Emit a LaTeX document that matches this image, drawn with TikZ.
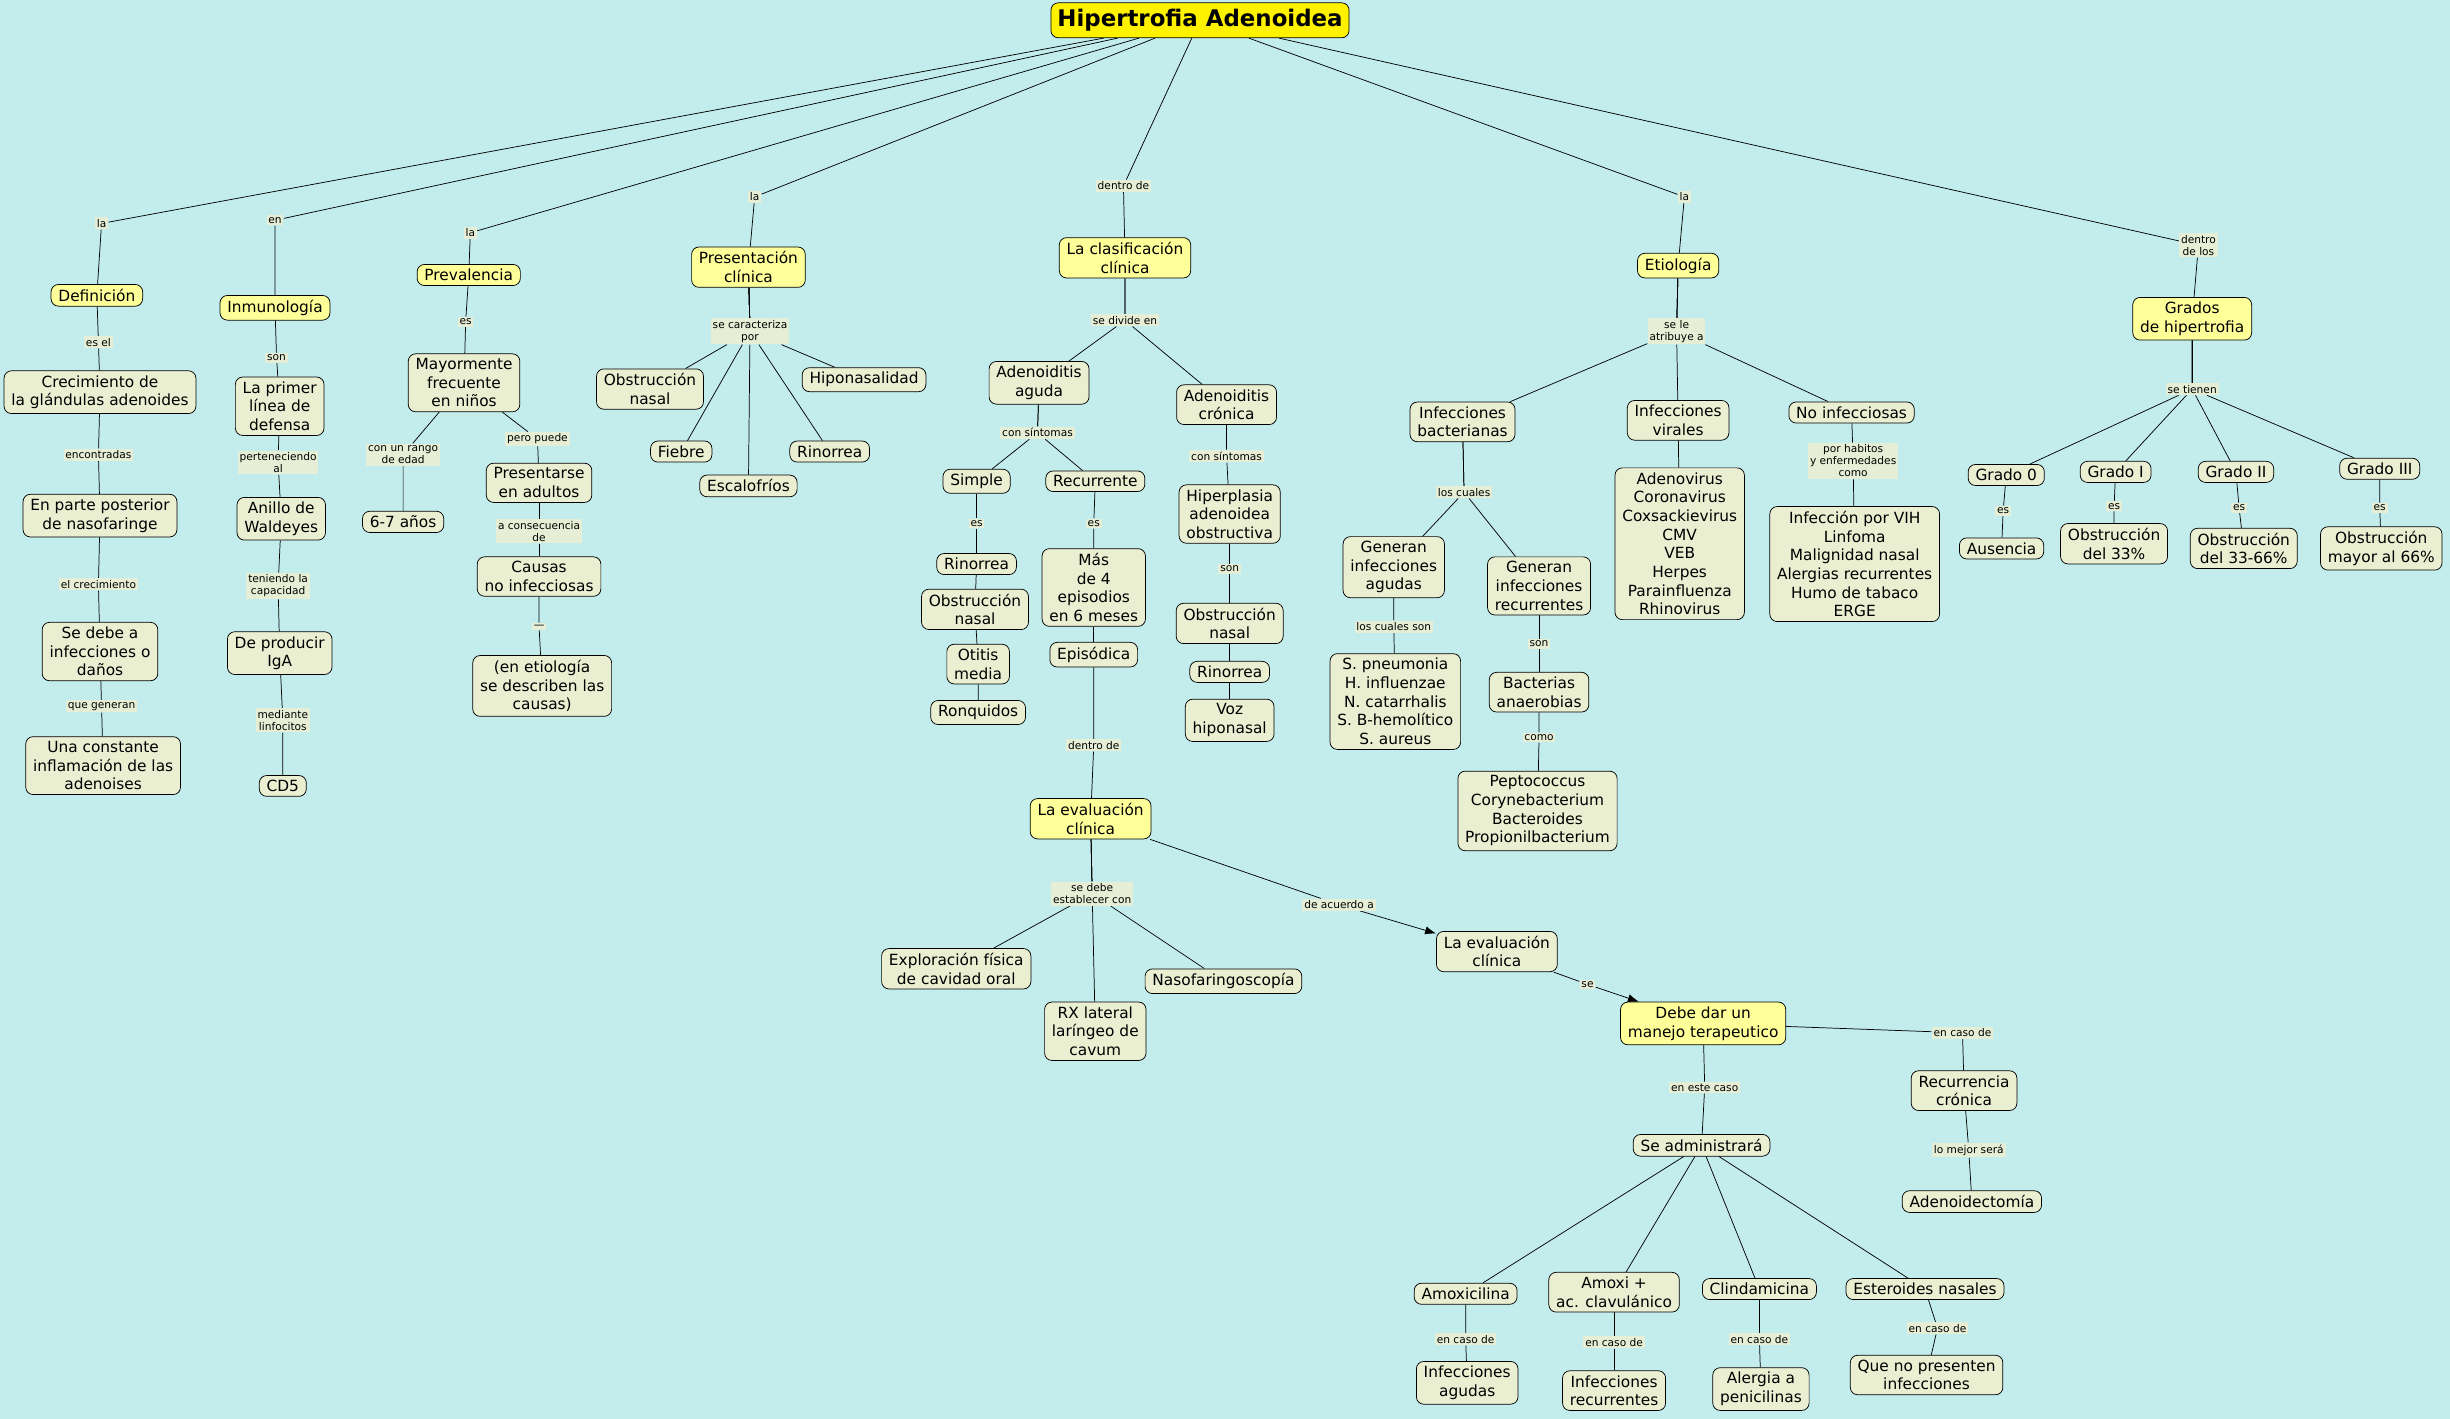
\documentclass[tikz,border=0pt]{standalone}
\usepackage{fontspec}
\setmainfont{DejaVu Sans}
\usetikzlibrary{arrows.meta,backgrounds}
\definecolor{bgc}{HTML}{C3EDED}
\definecolor{cream}{HTML}{EAEFD2}
\definecolor{yel}{HTML}{FFFF99}
\definecolor{lblc}{HTML}{E6EFD6}
\tikzset{
  concept/.style={draw, rounded corners=4pt, fill=cream, align=center, inner xsep=4pt, inner ysep=2.5pt,
    font=\fontsize{8.4}{10.2}\selectfont},
  key/.style={concept, fill=yel},
  lbl/.style={fill=lblc, align=center, inner sep=1pt, font=\fontsize{5.8}{6.6}\selectfont},
  edge/.style={thin, black},
  arr/.style={edge, -{Latex[length=6pt]}}
}
\newcommand\lk[3]{\draw[edge] (#1) -- (#2) -- (#3);}
\begin{document}
\begin{tikzpicture}[x=0.03cm,y=-0.03cm]
\useasboundingbox (0,0) rectangle (1568,908);
% title and main branches
\node[draw, rounded corners=4pt, fill=yellow, font=\bfseries\fontsize{12.5}{14}\selectfont, inner sep=3.5pt] (t) at (768,13) {Hipertrofia Adenoidea};
\node[key] (def) at (62,189) {Definición};
\node[key] (inm) at (176,197) {Inmunología};
\node[key] (prev) at (300,176) {Prevalencia};
\node[key] (pres) at (479,171) {Presentación\\clínica};
\node[key] (clas) at (720,165) {La clasificación\\clínica};
\node[key] (etio) at (1074,170) {Etiología};
\node[key] (grad) at (1403,204) {Grados\\de hipertrofia};
\node[lbl] (l1) at (65,143) {la};
\node[lbl] (l2) at (176,141) {en};
\node[lbl] (l3) at (301,149) {la};
\node[lbl] (l4) at (483,126) {la};
\node[lbl] (l5) at (719,119) {dentro de};
\node[lbl] (l6) at (1078,126) {la};
\node[lbl] (l7) at (1407,157) {dentro\\de los};
% definicion
\node[concept] (crec) at (64,251) {Crecimiento de\\la glándulas adenoides};
\node[concept] (post) at (64,330) {En parte posterior\\de nasofaringe};
\node[concept] (debe) at (64,417) {Se debe a\\infecciones o\\daños};
\node[concept] (const) at (66,490) {Una constante\\inflamación de las\\adenoises};
\node[lbl] (d1) at (63,219) {es el};
\node[lbl] (d2) at (63,291) {encontradas};
\node[lbl] (d3) at (63,374) {el crecimiento};
\node[lbl] (d4) at (65,452) {que generan};
% inmunologia
\node[concept] (lin) at (179,260) {La primer\\línea de\\defensa};
\node[concept] (anillo) at (180,332) {Anillo de\\Waldeyes};
\node[concept] (iga) at (179,418) {De producir\\IgA};
\node[concept] (cd) at (181,503) {CD5};
\node[lbl] (i1) at (177,229) {son};
\node[lbl] (i2) at (178,296) {perteneciendo\\al};
\node[lbl] (i3) at (178,375) {teniendo la\\capacidad};
\node[lbl] (i4) at (181,461) {mediante\\linfocitos};
% prevalencia
\node[concept] (may) at (297,245) {Mayormente\\frecuente\\en niños};
\node[concept] (edad) at (258,334) {6-7 años};
\node[concept] (adult) at (345,309) {Presentarse\\en adultos};
\node[concept] (causas) at (345,369) {Causas\\no infecciosas};
\node[concept] (etiol) at (347,439) {(en etiología\\se describen las\\causas)};
\node[lbl] (p1) at (298,206) {es};
\node[lbl] (p2) at (258,291) {con un rango\\de edad};
\node[lbl] (p3) at (344,281) {pero puede};
\node[lbl] (p4) at (345,340) {a consecuencia\\de};
\node[lbl] (p5) at (345,401) {---};
% presentacion
\node[lbl] (s1) at (480,212) {se caracteriza\\por};
\node[concept] (obs1) at (416,249) {Obstrucción\\nasal};
\node[concept] (fiebre) at (436,289) {Fiebre};
\node[concept] (escal) at (479,311) {Escalofríos};
\node[concept] (rin1) at (531,289) {Rinorrea};
\node[concept] (hipo) at (553,243) {Hiponasalidad};
% clasificacion
\node[lbl] (c1) at (720,205) {se divide en};
\node[concept] (aguda) at (665,245) {Adenoiditis\\aguda};
\node[concept] (cron) at (785,259) {Adenoiditis\\crónica};
\node[lbl] (c2) at (664,277) {con síntomas};
\node[concept] (simple) at (625,308) {Simple};
\node[concept] (recur) at (701,308) {Recurrente};
\node[lbl] (c3) at (625,335) {es};
\node[concept] (rin2) at (625,361) {Rinorrea};
\node[concept] (obs2) at (624,390) {Obstrucción\\nasal};
\node[concept] (otitis) at (626,425) {Otitis\\media};
\node[concept] (ronq) at (626,456) {Ronquidos};
\node[lbl] (c4) at (700,335) {es};
\node[concept] (mas) at (700,376) {Más\\de 4\\episodios\\en 6 meses};
\node[concept] (epis) at (700,419) {Episódica};
\node[lbl] (c5) at (785,292) {con síntomas};
\node[concept] (hiper) at (787,329) {Hiperplasia\\adenoidea\\obstructiva};
\node[lbl] (c6) at (787,364) {son};
\node[concept] (obs3) at (787,399) {Obstrucción\\nasal};
\node[concept] (rin3) at (787,430) {Rinorrea};
\node[concept] (voz) at (787,461) {Voz\\hiponasal};
\node[lbl] (c7) at (700,477) {dentro de};
\node[key] (eval1) at (698,524) {La evaluación\\clínica};
\node[lbl] (c8) at (699,572) {se debe\\establecer con};
\node[concept] (expl) at (612,620) {Exploración física\\de cavidad oral};
\node[concept] (rx) at (701,660) {RX lateral\\laríngeo de\\cavum};
\node[concept] (naso) at (783,628) {Nasofaringoscopía};
\node[lbl] (c9) at (857,579) {de acuerdo a};
\node[concept] (eval2) at (958,609) {La evaluación\\clínica};
\node[lbl] (c10) at (1016,630) {se};
\node[key] (manejo) at (1090,655) {Debe dar un\\manejo terapeutico};
\node[lbl] (m1) at (1091,696) {en este caso};
\node[concept] (admin) at (1089,733) {Se administrará};
\node[lbl] (m2) at (1256,661) {en caso de};
\node[concept] (recron) at (1257,698) {Recurrencia\\crónica};
\node[lbl] (m3) at (1260,736) {lo mejor será};
\node[concept] (adeno) at (1262,769) {Adenoidectomía};
\node[concept] (amox) at (938,828) {Amoxicilina};
\node[concept] (amoxi) at (1033,827) {Amoxi +\\ac. clavulánico};
\node[concept] (clin) at (1126,825) {Clindamicina};
\node[concept] (ester) at (1232,825) {Esteroides nasales};
\node[lbl] (a1) at (938,857) {en caso de};
\node[lbl] (a2) at (1033,859) {en caso de};
\node[lbl] (a3) at (1126,857) {en caso de};
\node[lbl] (a4) at (1240,850) {en caso de};
\node[concept] (infag) at (939,885) {Infecciones\\agudas};
\node[concept] (infrec) at (1033,890) {Infecciones\\recurrentes};
\node[concept] (alerg) at (1127,889) {Alergia a\\penicilinas};
\node[concept] (nopres) at (1233,880) {Que no presenten\\infecciones};
% etiologia
\node[lbl] (e1) at (1073,212) {se le\\atribuye a};
\node[concept] (bact) at (936,270) {Infecciones\\bacterianas};
\node[concept] (vir) at (1074,269) {Infecciones\\virales};
\node[concept] (noinf) at (1185,264) {No infecciosas};
\node[lbl] (e2) at (937,315) {los cuales};
\node[concept] (gag) at (892,363) {Generan\\infecciones\\agudas};
\node[concept] (grec) at (985,375) {Generan\\infecciones\\recurrentes};
\node[lbl] (e3) at (892,401) {los cuales son};
\node[concept] (spn) at (893,449) {S. pneumonia\\H. influenzae\\N. catarrhalis\\S. B-hemolítico\\S. aureus};
\node[lbl] (e4) at (985,412) {son};
\node[concept] (anaer) at (985,443) {Bacterias\\anaerobias};
\node[lbl] (e5) at (985,472) {como};
\node[concept] (pepto) at (984,519) {Peptococcus\\Corynebacterium\\Bacteroides\\Propionilbacterium};
\node[concept] (virl) at (1075,348) {Adenovirus\\Coronavirus\\Coxsackievirus\\CMV\\VEB\\Herpes\\Parainfluenza\\Rhinovirus};
\node[lbl] (e6) at (1186,295) {por habitos\\y enfermedades\\como};
\node[concept] (noinfl) at (1187,361) {Infección por VIH\\Linfoma\\Malignidad nasal\\Alergias recurrentes\\Humo de tabaco\\ERGE};
% grados
\node[lbl] (g) at (1403,249) {se tienen};
\node[concept] (g0) at (1284,304) {Grado 0};
\node[concept] (g1) at (1354,302) {Grado I};
\node[concept] (g2) at (1431,302) {Grado II};
\node[concept] (g3) at (1523,300) {Grado III};
\node[lbl] (ge0) at (1282,327) {es};
\node[lbl] (ge1) at (1353,324) {es};
\node[lbl] (ge2) at (1433,325) {es};
\node[lbl] (ge3) at (1523,325) {es};
\node[concept] (aus) at (1281,351) {Ausencia};
\node[concept] (o1) at (1353,348) {Obstrucción\\del 33\%};
\node[concept] (o2) at (1436,351) {Obstrucción\\del 33-66\%};
\node[concept] (o3) at (1524,351) {Obstrucción\\mayor al 66\%};
% connectors
\begin{scope}[on background layer]
\fill[bgc] (0,0) rectangle (1568,908);
\lk{t}{l1}{def} \lk{t}{l2}{inm} \lk{t}{l3}{prev} \lk{t}{l4}{pres}
\lk{t}{l5}{clas} \lk{t}{l6}{etio} \lk{t}{l7}{grad}
\lk{def}{d1}{crec} \lk{crec}{d2}{post} \lk{post}{d3}{debe} \lk{debe}{d4}{const}
\lk{inm}{i1}{lin} \lk{lin}{i2}{anillo} \lk{anillo}{i3}{iga} \lk{iga}{i4}{cd}
\lk{prev}{p1}{may} \lk{may}{p2}{edad} \lk{may}{p3}{adult} \lk{adult}{p4}{causas} \lk{causas}{p5}{etiol}
\foreach \n in {obs1,fiebre,escal,rin1,hipo} {\lk{pres}{s1}{\n}}
\lk{clas}{c1}{aguda} \lk{clas}{c1}{cron}
\lk{aguda}{c2}{simple} \lk{aguda}{c2}{recur}
\lk{simple}{c3}{rin2}
\draw[edge] (rin2) -- (obs2) -- (otitis) -- (ronq);
\lk{recur}{c4}{mas} \draw[edge] (mas) -- (epis);
\lk{cron}{c5}{hiper} \lk{hiper}{c6}{obs3} \draw[edge] (obs3) -- (rin3) -- (voz);
\lk{epis}{c7}{eval1}
\foreach \n in {expl,rx,naso} {\lk{eval1}{c8}{\n}}
\draw[edge] (eval1) -- (c9); \draw[arr] (c9) -- (eval2);
\draw[edge] (eval2) -- (c10); \draw[arr] (c10) -- (manejo);
\lk{manejo}{m1}{admin} \lk{manejo}{m2}{recron} \lk{recron}{m3}{adeno}
\foreach \n in {amox,amoxi,clin,ester} {\draw[edge] (admin) -- (\n);}
\lk{amox}{a1}{infag} \lk{amoxi}{a2}{infrec} \lk{clin}{a3}{alerg} \lk{ester}{a4}{nopres}
\foreach \n in {bact,vir,noinf} {\lk{etio}{e1}{\n}}
\lk{bact}{e2}{gag} \lk{bact}{e2}{grec} \lk{gag}{e3}{spn} \lk{grec}{e4}{anaer} \lk{anaer}{e5}{pepto}
\draw[edge] (vir) -- (virl); \lk{noinf}{e6}{noinfl}
\foreach \n in {g0,g1,g2,g3} {\lk{grad}{g}{\n}}
\lk{g0}{ge0}{aus} \lk{g1}{ge1}{o1} \lk{g2}{ge2}{o2} \lk{g3}{ge3}{o3}
\end{scope}
\end{tikzpicture}
\end{document}
